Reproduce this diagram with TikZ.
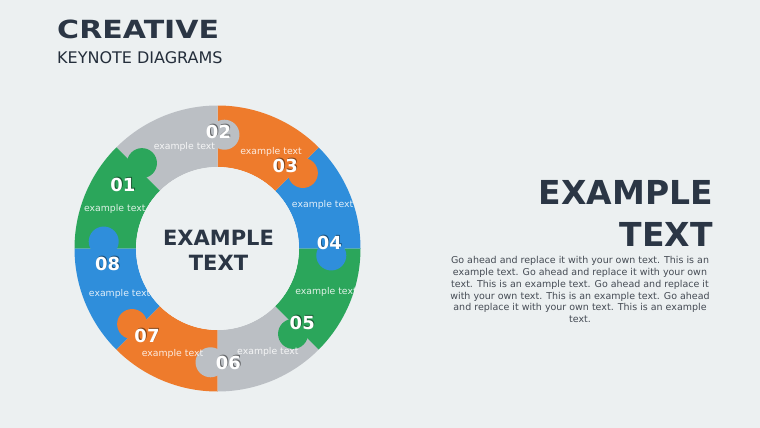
\documentclass[tikz,border=0pt]{standalone}
\usepackage{fontspec}
\setmainfont{DejaVu Sans}

\definecolor{bgpage}{HTML}{ECF0F1}
\definecolor{pgreen}{HTML}{2BA65B}
\definecolor{porange}{HTML}{EE7B2C}
\definecolor{pblue}{HTML}{2F8EDB}
\definecolor{pgray}{HTML}{BBBFC4}
\definecolor{navy}{HTML}{2B3645}
\definecolor{bodygray}{HTML}{454B54}

\tikzset{
  numtext/.style={text=white, font=\fontsize{18}{18}\selectfont\bfseries, inner sep=0pt},
  numshade/.style={text=black, text opacity=0.45, font=\fontsize{18}{18}\selectfont\bfseries,
    inner sep=0pt, xshift=0.8pt, yshift=1pt},
  parttext/.style={text=white, text opacity=0.85, font=\fontsize{9.3}{10}\selectfont, inner sep=0pt},
}

% one eighth of the ring, from angle #1, colour #2
\newcommand\ringpart[2]{%
  \fill[#2] (#1:143) arc[start angle=#1, delta angle=45, radius=143]
    -- ({#1+45}:81.5) arc[start angle={#1+45}, delta angle=-45, radius=81.5] -- cycle;}
% puzzle knob at the start of a part
\newcommand\knob[2]{\fill[#2] ({#1-3.5}:114) circle[radius=15];}

\begin{document}
\begin{tikzpicture}[x=1pt, y=-1pt]

  \useasboundingbox (0,0) rectangle (760,428);
  \fill[bgpage] (0,0) rectangle (760,428);

  % heading
  \node[anchor=base west, inner sep=0pt, text=navy, xscale=1.2, transform shape,
        font=\fontsize{25}{25}\selectfont\bfseries] (title) at (57,38) {CREATIVE};
  \node[anchor=base west, inner sep=0pt, text=navy!85!black,
        font=\fontsize{16}{16}\selectfont] (subtitle) at (57,63.5) {KEYNOTE DIAGRAMS};

  \begin{scope}[shift={(217.5,248.5)}, yscale=-1]

    \ringpart{0}{pblue}
    \ringpart{45}{porange}
    \ringpart{90}{pgray}
    \ringpart{135}{pgreen}
    \ringpart{180}{pblue}
    \ringpart{225}{porange}
    \ringpart{270}{pgray}
    \ringpart{315}{pgreen}

    \knob{0}{pblue}
    \knob{45}{porange}
    \knob{90}{pgray}
    \knob{135}{pgreen}
    \knob{180}{pblue}
    \knob{225}{porange}
    \knob{270}{pgray}
    \knob{315}{pgreen}

    \begin{scope}
      \clip (0,0) circle[radius=143];
      \node[parttext] (t01) at (159:110)   {example text};
      \node[parttext] (t02) at (108:107)   {example text};
      \node[parttext] (t03) at (61:110.5)  {example text};
      \node[parttext] (t04) at (22.7:114)  {example text};
      \node[parttext] (t05) at (-22:117)   {example text};
      \node[parttext] (t06) at (-64:115)   {example text};
      \node[parttext] (t07) at (247:115)   {example text};
      \node[parttext] (t08) at (205:108)   {example text};
    \end{scope}

    \fill[bgpage] (0,0) circle[radius=81.5];

    \node[numshade] (s01) at (146:114)   {01};
    \node[numshade] (s02) at (89.5:117)  {02};
    \node[numshade] (s03) at (50.7:107)  {03};
    \node[numshade] (s04) at (2.6:112)   {04};
    \node[numshade] (s05) at (-41.4:113) {05};
    \node[numshade] (s06) at (-84.5:114.5) {06};
    \node[numshade] (s07) at (231:112)   {07};
    \node[numshade] (s08) at (188:111)   {08};

    \node[numtext] (n01) at (146:114)   {01};
    \node[numtext] (n02) at (89.5:117)  {02};
    \node[numtext] (n03) at (50.7:107)  {03};
    \node[numtext] (n04) at (2.6:112)   {04};
    \node[numtext] (n05) at (-41.4:113) {05};
    \node[numtext] (n06) at (-84.5:114.5) {06};
    \node[numtext] (n07) at (231:112)   {07};
    \node[numtext] (n08) at (188:111)   {08};

  \end{scope}

  \node[anchor=north, inner sep=0pt, align=center, text=navy,
        font=\fontsize{21}{25}\selectfont\bfseries] (centre) at (218.5,230) {EXAMPLE\\TEXT};

  % right hand block
  \node[anchor=north east, inner sep=0pt, align=right, text=navy,
        font=\fontsize{33}{42}\selectfont\bfseries] (rhead) at (713,180) {EXAMPLE\\TEXT};
  \node[anchor=north, inner sep=0pt, align=center, text=bodygray,
        font=\fontsize{9.5}{11.7}\selectfont] (body) at (580,256.5)
    {Go ahead and replace it with your own text. This is an\\
     example text. Go ahead and replace it with your own\\
     text. This is an example text. Go ahead and replace it\\
     with your own text. This is an example text. Go ahead\\
     and replace it with your own text. This is an example\\
     text.};

\end{tikzpicture}
\end{document}
